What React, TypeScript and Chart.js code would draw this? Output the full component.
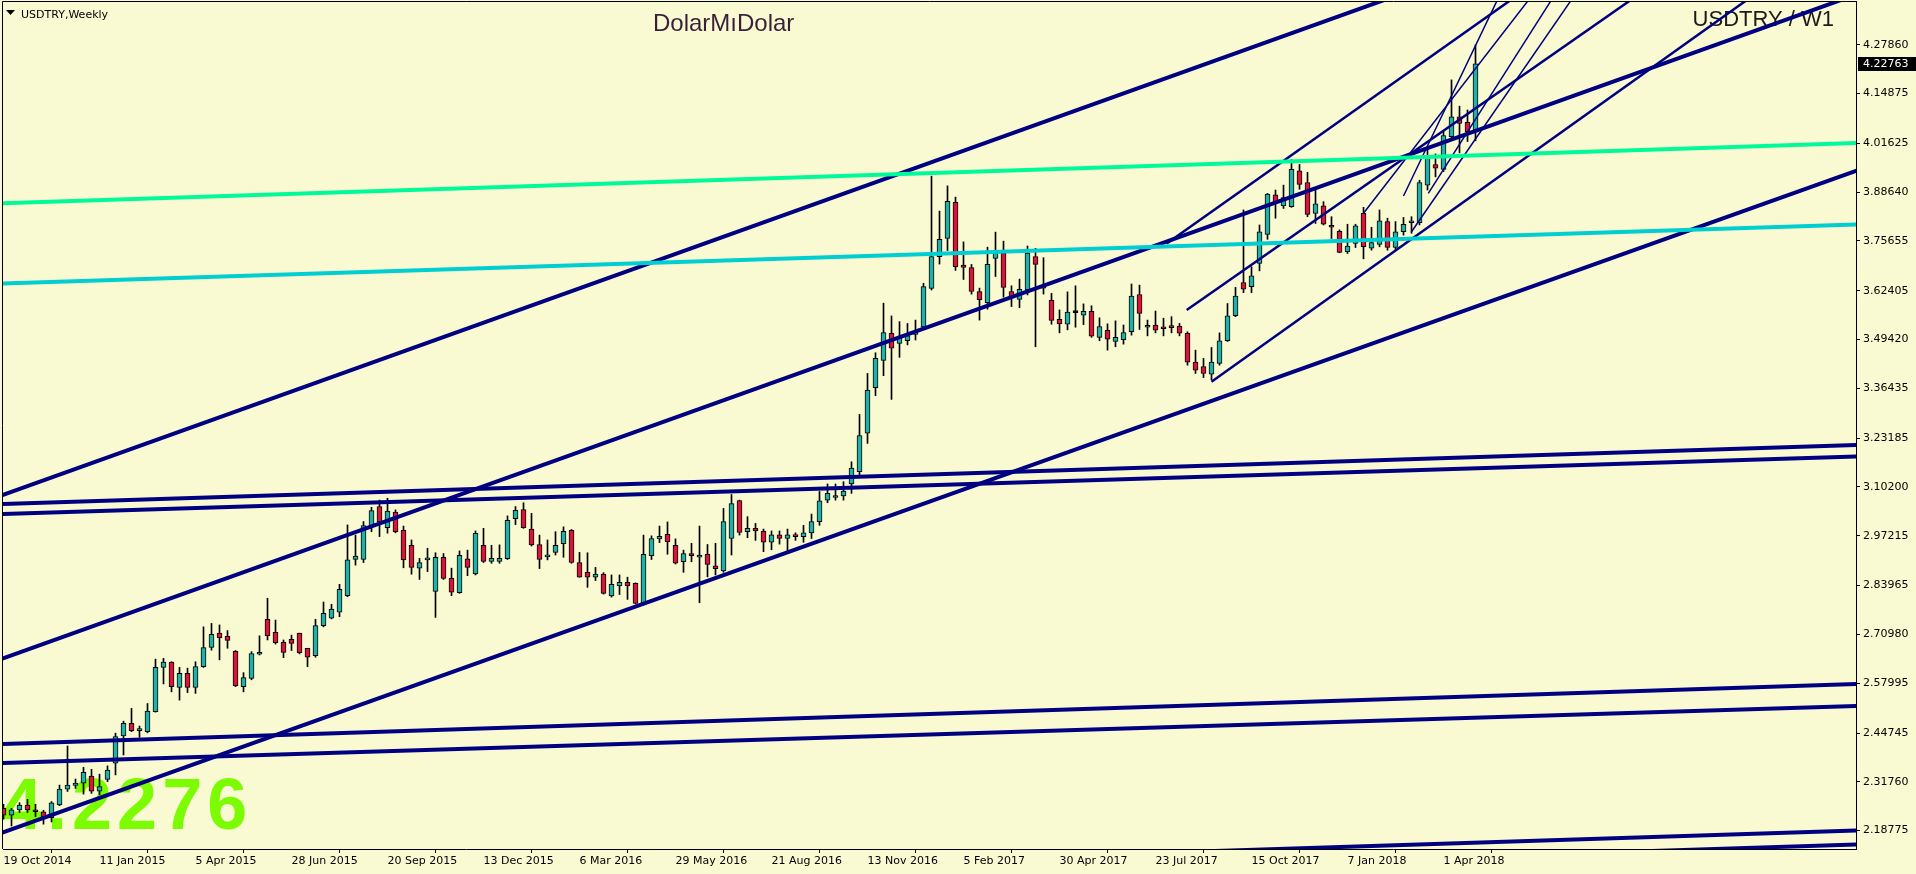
import { useEffect, useRef } from "react";
import { Chart, registerables } from "chart.js";

Chart.register(...registerables);

// ---- Weekly USDTRY candles (bar 0 = week of 19 Oct 2014) ----
const opens = [
  2.247, 2.229, 2.243, 2.256, 2.243, 2.238, 2.222, 2.256, 2.298, 2.308,
  2.314, 2.333, 2.293, 2.324, 2.367, 2.440, 2.473, 2.454, 2.451, 2.504,
  2.622, 2.636, 2.569, 2.606, 2.569, 2.624, 2.675, 2.713, 2.705, 2.665,
  2.571, 2.593, 2.657, 2.750, 2.715, 2.689, 2.697, 2.713, 2.673, 2.653,
  2.733, 2.753, 2.769, 2.813, 2.909, 2.909, 2.999, 3.050, 2.994, 3.035,
  2.987, 2.947, 2.886, 2.908, 2.824, 2.915, 2.859, 2.821, 2.911, 2.871,
  2.947, 2.904, 2.904, 2.911, 3.018, 3.042, 2.990, 2.949, 2.916, 2.928,
  2.951, 2.987, 2.901, 2.875, 2.862, 2.870, 2.812, 2.839, 2.848, 2.846,
  2.794, 2.919, 2.964, 2.976, 2.947, 2.903, 2.925, 2.915, 2.923, 2.892,
  2.879, 2.965, 3.066, 2.983, 2.992, 2.985, 2.955, 2.975, 2.965, 2.975,
  2.970, 2.980, 3.010, 3.067, 3.074, 3.078, 3.110, 3.143, 3.245, 3.366,
  3.439, 3.511, 3.484, 3.491, 3.508, 3.528, 3.630, 3.715, 3.763, 3.859,
  3.692, 3.686, 3.622, 3.592, 3.710, 3.724, 3.622, 3.601, 3.626, 3.715,
  3.635, 3.599, 3.548, 3.535, 3.566, 3.559, 3.569, 3.500, 3.519, 3.489,
  3.494, 3.515, 3.614, 3.527, 3.533, 3.524, 3.527, 3.530, 3.511, 3.434,
  3.422, 3.402, 3.431, 3.491, 3.558, 3.646, 3.635, 3.697, 3.774, 3.879,
  3.850, 3.848, 3.943, 3.912, 3.830, 3.850, 3.798, 3.782, 3.728, 3.750,
  3.830, 3.737, 3.747, 3.808, 3.739, 3.781, 3.805, 3.805, 3.905, 3.960,
  3.947, 4.034, 4.087, 4.072, 4.052,
];
const highs = [
  2.258, 2.247, 2.262, 2.271, 2.258, 2.242, 2.265, 2.309, 2.413, 2.325,
  2.356, 2.351, 2.338, 2.360, 2.447, 2.479, 2.513, 2.466, 2.526, 2.644,
  2.646, 2.637, 2.622, 2.620, 2.637, 2.730, 2.739, 2.735, 2.720, 2.667,
  2.608, 2.664, 2.706, 2.806, 2.748, 2.695, 2.708, 2.713, 2.673, 2.750,
  2.796, 2.790, 2.843, 3.001, 2.974, 3.010, 3.048, 3.067, 3.072, 3.041,
  2.998, 2.961, 2.912, 2.939, 2.927, 2.925, 2.886, 2.932, 2.934, 2.985,
  2.992, 2.947, 2.948, 3.025, 3.050, 3.060, 3.032, 2.974, 2.961, 2.983,
  2.996, 2.989, 2.928, 2.927, 2.888, 2.874, 2.868, 2.868, 2.862, 2.847,
  2.974, 2.972, 2.998, 3.009, 2.964, 2.934, 2.952, 2.998, 2.949, 2.952,
  3.045, 3.082, 3.067, 3.023, 3.005, 2.990, 2.985, 2.985, 2.990, 2.980,
  3.000, 3.030, 3.090, 3.110, 3.110, 3.116, 3.169, 3.295, 3.404, 3.459,
  3.591, 3.557, 3.542, 3.537, 3.546, 3.644, 3.929, 3.836, 3.903, 3.873,
  3.754, 3.694, 3.631, 3.740, 3.780, 3.756, 3.637, 3.655, 3.743, 3.737,
  3.712, 3.617, 3.573, 3.621, 3.637, 3.589, 3.584, 3.552, 3.536, 3.544,
  3.533, 3.642, 3.639, 3.546, 3.570, 3.551, 3.555, 3.537, 3.515, 3.466,
  3.444, 3.473, 3.512, 3.590, 3.633, 3.839, 3.688, 3.799, 3.883, 3.892,
  3.905, 3.973, 3.960, 3.939, 3.896, 3.861, 3.821, 3.786, 3.801, 3.801,
  3.846, 3.793, 3.839, 3.817, 3.808, 3.819, 3.821, 3.918, 3.998, 3.988,
  4.047, 4.185, 4.115, 4.105, 4.278,
];
const lows = [
  2.218, 2.200, 2.236, 2.236, 2.225, 2.205, 2.211, 2.254, 2.292, 2.300,
  2.285, 2.287, 2.283, 2.318, 2.336, 2.389, 2.451, 2.436, 2.448, 2.503,
  2.578, 2.557, 2.535, 2.555, 2.553, 2.622, 2.668, 2.642, 2.673, 2.571,
  2.557, 2.589, 2.655, 2.695, 2.684, 2.648, 2.667, 2.658, 2.624, 2.649,
  2.730, 2.751, 2.757, 2.810, 2.894, 2.901, 2.983, 2.970, 2.979, 2.980,
  2.887, 2.870, 2.856, 2.877, 2.755, 2.856, 2.813, 2.819, 2.866, 2.868,
  2.901, 2.899, 2.899, 2.909, 3.002, 2.992, 2.945, 2.885, 2.908, 2.921,
  2.915, 2.899, 2.862, 2.835, 2.853, 2.817, 2.809, 2.816, 2.803, 2.791,
  2.792, 2.909, 2.954, 2.923, 2.897, 2.875, 2.903, 2.794, 2.863, 2.868,
  2.875, 2.921, 2.974, 2.967, 2.960, 2.930, 2.935, 2.950, 2.930, 2.960,
  2.955, 2.965, 3.000, 3.060, 3.067, 3.067, 3.085, 3.132, 3.218, 3.345,
  3.398, 3.335, 3.447, 3.480, 3.493, 3.527, 3.626, 3.695, 3.731, 3.678,
  3.654, 3.615, 3.546, 3.575, 3.662, 3.607, 3.582, 3.579, 3.613, 3.475,
  3.615, 3.535, 3.512, 3.520, 3.527, 3.534, 3.500, 3.491, 3.466, 3.475,
  3.482, 3.506, 3.521, 3.504, 3.512, 3.504, 3.512, 3.504, 3.426, 3.404,
  3.393, 3.387, 3.426, 3.489, 3.555, 3.619, 3.619, 3.677, 3.761, 3.817,
  3.843, 3.846, 3.894, 3.821, 3.803, 3.799, 3.763, 3.725, 3.723, 3.739,
  3.709, 3.732, 3.741, 3.732, 3.732, 3.772, 3.777, 3.799, 3.892, 3.927,
  3.941, 4.027, 3.991, 4.021, 4.023,
];
const closes = [
  2.229, 2.243, 2.256, 2.243, 2.238, 2.222, 2.262, 2.298, 2.309, 2.314,
  2.343, 2.293, 2.305, 2.349, 2.438, 2.473, 2.454, 2.455, 2.506, 2.622,
  2.636, 2.571, 2.606, 2.569, 2.624, 2.675, 2.710, 2.701, 2.694, 2.573,
  2.595, 2.659, 2.658, 2.706, 2.688, 2.662, 2.686, 2.661, 2.649, 2.733,
  2.766, 2.777, 2.830, 2.908, 2.918, 2.999, 3.039, 3.010, 3.038, 2.983,
  2.908, 2.888, 2.901, 2.909, 2.915, 2.859, 2.822, 2.920, 2.888, 2.979,
  2.904, 2.912, 2.912, 3.013, 3.040, 2.994, 2.948, 2.909, 2.917, 2.947,
  2.984, 2.901, 2.862, 2.862, 2.870, 2.819, 2.843, 2.848, 2.839, 2.792,
  2.923, 2.965, 2.971, 2.956, 2.899, 2.925, 2.919, 2.921, 2.896, 2.885,
  3.010, 3.058, 2.981, 2.992, 2.985, 2.955, 2.975, 2.965, 2.975, 2.970,
  2.980, 3.010, 3.065, 3.085, 3.076, 3.091, 3.152, 3.239, 3.360, 3.444,
  3.513, 3.471, 3.498, 3.504, 3.513, 3.635, 3.715, 3.761, 3.862, 3.688,
  3.686, 3.622, 3.600, 3.694, 3.724, 3.633, 3.608, 3.628, 3.724, 3.694,
  3.631, 3.545, 3.536, 3.567, 3.566, 3.569, 3.503, 3.529, 3.495, 3.500,
  3.513, 3.610, 3.564, 3.528, 3.519, 3.523, 3.526, 3.511, 3.434, 3.413,
  3.404, 3.434, 3.491, 3.557, 3.610, 3.628, 3.664, 3.781, 3.881, 3.861,
  3.872, 3.947, 3.907, 3.827, 3.855, 3.801, 3.793, 3.726, 3.743, 3.797,
  3.741, 3.752, 3.810, 3.739, 3.781, 3.801, 3.806, 3.912, 3.982, 3.950,
  4.037, 4.087, 4.069, 4.047, 4.22763,
];

const dateTickIdx = [0, 12, 24, 36, 48, 60, 72, 84, 96, 108, 120, 132, 144, 156, 168, 180];
const dateLabels = [
  "19 Oct 2014", "11 Jan 2015", "5 Apr 2015", "28 Jun 2015", "20 Sep 2015", "13 Dec 2015",
  "6 Mar 2016", "29 May 2016", "21 Aug 2016", "13 Nov 2016", "5 Feb 2017", "30 Apr 2017",
  "23 Jul 2017", "15 Oct 2017", "7 Jan 2018", "1 Apr 2018",
];
const priceTicks = [
  4.2786, 4.14875, 4.01625, 3.8864, 3.75655, 3.62405, 3.4942, 3.36435, 3.23185,
  3.102, 2.97215, 2.83965, 2.7098, 2.57995, 2.44745, 2.3176, 2.18775,
];
const lastPrice = 4.22763;

// trend lines: [barIndex1, price1, barIndex2, price2]
const thickNavyLines = [
  [-1, 3.074, 180, 4.454],
  [-1, 2.639, 235, 4.438],
  [-1, 2.176, 235, 3.969],
  [-1, 3.0563, 235, 3.2163],
  [-1, 3.0295, 235, 3.1854],
  [-1, 2.4176, 235, 2.5803],
  [-1, 2.3671, 235, 2.5216],
  [-1, 2.0297, 235, 2.1905],
  [-1, 1.9925, 235, 2.1533],
];
const greenLine = [-1, 3.856, 235, 4.0197];
const cyanLine = [-1, 3.6429, 235, 3.8023];
const channelLines = [
  [145.4, 3.75, 200, 4.572],
  [147.9, 3.573, 206, 4.436],
  [151.0, 3.382, 225, 4.505],
];
const fanLines = [
  [175.0, 3.876, 188, 4.454],
  [170.0, 3.83, 192, 4.435],
  [178.1, 3.883, 195, 4.448],
  [176.0, 3.781, 198, 4.46],
];

const BG = "#FAFAD2";
const NAVY = "#000080";
const TEAL = "#20B2AA";
const RED = "#DC143C";
const AXIS_FONT = { family: "DejaVu Sans", size: 11 };

function lineDs(seg: number[], color: string, width: number) {
  return {
    type: "line" as const,
    data: [
      { x: seg[0], y: seg[1] },
      { x: seg[2], y: seg[3] },
    ],
    borderColor: color,
    borderWidth: width,
    pointRadius: 0,
    fill: false,
    tension: 0,
    order: 1,
  };
}

const decorPlugin = {
  id: "decor",
  beforeDraw(chart: any) {
    const { ctx, width, height } = chart;
    ctx.save();
    ctx.fillStyle = BG;
    ctx.fillRect(0, 0, width, height);
    ctx.restore();
  },
  beforeDatasetsDraw(chart: any) {
    const { ctx } = chart;
    ctx.save();
    ctx.fillStyle = "#7CFC00";
    ctx.font = 'bold 72px "Liberation Sans"';
    ctx.textBaseline = "alphabetic";
    ctx.textAlign = "left";
    ctx.letterSpacing = "5px";
    ctx.fillText(lastPrice.toFixed(4), 2, 829);
    ctx.letterSpacing = "0px";
    ctx.fillStyle = "#1a1a1a";
    ctx.font = '22px "Liberation Sans"';
    ctx.textAlign = "right";
    ctx.fillText("USDTRY / W1", 1834, 26);
    ctx.textAlign = "left";
    ctx.fillStyle = "#3a1f3a";
    ctx.font = '24px "Liberation Sans"';
    ctx.fillText("DolarMıDolar", 653, 31);
    ctx.restore();
  },
  afterDraw(chart: any) {
    const { ctx, chartArea } = chart;
    ctx.save();
    ctx.strokeStyle = "#000";
    ctx.lineWidth = 1;
    ctx.beginPath();
    ctx.moveTo(chartArea.left - 0.5, chartArea.bottom);
    ctx.lineTo(chartArea.left - 0.5, chartArea.top - 0.5);
    ctx.lineTo(chartArea.right + 1, chartArea.top - 0.5);
    ctx.stroke();
    // top-left caption
    ctx.fillStyle = "#000";
    ctx.beginPath();
    ctx.moveTo(6, 10);
    ctx.lineTo(15, 10);
    ctx.lineTo(10.5, 15);
    ctx.closePath();
    ctx.fill();
    ctx.font = '11px "DejaVu Sans"';
    ctx.textBaseline = "alphabetic";
    ctx.fillText("USDTRY,Weekly", 21, 18);
    // current price box
    const y = chart.scales.y.getPixelForValue(lastPrice);
    ctx.fillStyle = "#000";
    ctx.fillRect(chartArea.right + 2, Math.round(y) - 7, 58, 14);
    ctx.fillStyle = "#fff";
    ctx.textBaseline = "middle";
    ctx.fillText(lastPrice.toFixed(5), chartArea.right + 7, Math.round(y));
    ctx.restore();
  },
};

export default function App() {
  const ref = useRef<HTMLCanvasElement>(null);
  useEffect(() => {
    if (!ref.current) return;
    const bodyData = opens.map((o, i) => ({ x: i, y: [o, closes[i]] }));
    const wickData = opens.map((_, i) => ({ x: i, y: [lows[i], highs[i]] }));
    const bodyColors = opens.map((o, i) => (closes[i] > o ? TEAL : closes[i] < o ? RED : "#000"));
    const datasets: any[] = [
      {
        type: "bar",
        data: wickData,
        backgroundColor: "#000",
        borderWidth: 0,
        barThickness: 1,
        maxBarThickness: 1,
        grouped: false,
        order: 3,
      },
      {
        type: "bar",
        data: bodyData,
        backgroundColor: bodyColors,
        borderColor: "#000",
        borderWidth: 1,
        borderSkipped: false,
        barThickness: 5,
        maxBarThickness: 5,
        minBarLength: 2,
        grouped: false,
        order: 2,
      },
      lineDs(greenLine, "#00FA9A", 4),
      lineDs(cyanLine, "#00CED1", 4),
      ...thickNavyLines.map((s) => lineDs(s, NAVY, 4)),
      ...channelLines.map((s) => lineDs(s, NAVY, 2.5)),
      ...fanLines.map((s) => lineDs(s, NAVY, 1.5)),
    ];
    const chart = new Chart(ref.current, {
      type: "bar",
      data: { datasets },
      plugins: [decorPlugin],
      options: {
        animation: false,
        responsive: false,
        devicePixelRatio: 1,
        layout: { padding: { left: 3, top: 2, right: 0, bottom: 0 } },
        plugins: { legend: { display: false }, tooltip: { enabled: false } },
        scales: {
          x: {
            type: "linear",
            position: "bottom",
            min: -0.0625,
            max: 231.5625,
            offset: false,
            afterBuildTicks: (s: any) => {
              s.ticks = dateTickIdx.map((v) => ({ value: v }));
            },
            afterFit: (s: any) => {
              s.height = 25;
              s.paddingLeft = 0;
              s.paddingRight = 0;
            },
            ticks: {
              autoSkip: false,
              maxRotation: 0,
              minRotation: 0,
              align: "start",
              padding: 2,
              color: "#000",
              font: AXIS_FONT,
              callback: (v: any) => dateLabels[dateTickIdx.indexOf(Number(v))] ?? "",
            },
            grid: { drawOnChartArea: false, drawTicks: true, tickLength: 4, color: "#000" },
            border: { display: true, color: "#000", width: 1 },
          },
          y: {
            type: "linear",
            position: "right",
            min: 2.1389,
            max: 4.3922,
            afterBuildTicks: (s: any) => {
              s.ticks = priceTicks.map((v) => ({ value: v }));
            },
            afterFit: (s: any) => {
              s.width = 60;
              s.paddingTop = 0;
              s.paddingBottom = 0;
            },
            ticks: {
              autoSkip: false,
              padding: 3,
              color: "#000",
              font: AXIS_FONT,
              callback: (v: any) => Number(v).toFixed(5),
            },
            grid: { drawOnChartArea: false, drawTicks: true, tickLength: 4, color: "#000" },
            border: { display: true, color: "#000", width: 1 },
          },
        },
      } as any,
    });
    return () => chart.destroy();
  }, []);
  return (
    <div style={{ position: "fixed", left: 0, top: 0, width: 1916, height: 874, background: BG }}>
      <canvas ref={ref} width={1916} height={874} style={{ display: "block" }} />
    </div>
  );
}
